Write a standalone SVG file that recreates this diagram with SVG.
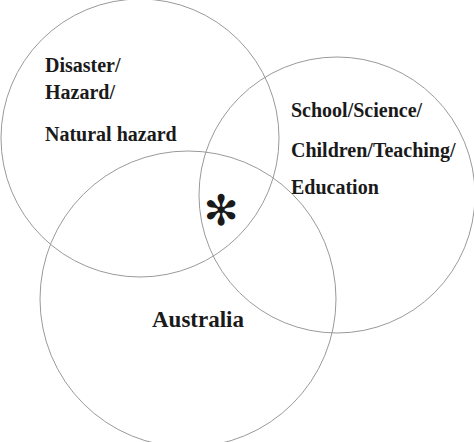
<svg xmlns="http://www.w3.org/2000/svg" width="474" height="442" viewBox="0 0 474 442">
<style>
.c{fill:none;stroke:#9a9a9a;stroke-width:1}
.t{font-family:"Liberation Serif","Times New Roman",serif;font-weight:bold;fill:#1a1a1a;font-size:20px}
</style>
<rect width="474" height="442" fill="#fff"/>
<g id="hazard">
<circle class="c" cx="140" cy="138" r="139"/>
<text class="t" x="45" y="72">Disaster/</text>
<text class="t" x="45" y="99">Hazard/</text>
<text class="t" x="45" y="141">Natural hazard</text>
</g>
<g id="school">
<circle class="c" cx="337" cy="195" r="138"/>
<text class="t" x="291" y="117">School/Science/</text>
<text class="t" x="291" y="157">Children/Teaching/</text>
<text class="t" x="291" y="194">Education</text>
</g>
<g id="australia">
<circle class="c" cx="188" cy="299" r="148"/>
<text class="t" x="152" y="327" style="font-size:23px">Australia</text>
</g>
<g id="intersection">
<text x="221" y="225" text-anchor="middle" style="font-family:'DejaVu Sans',sans-serif;font-size:42px;fill:#1a1a1a">✻</text>
</g>
<g id="connectors"/>
</svg>
